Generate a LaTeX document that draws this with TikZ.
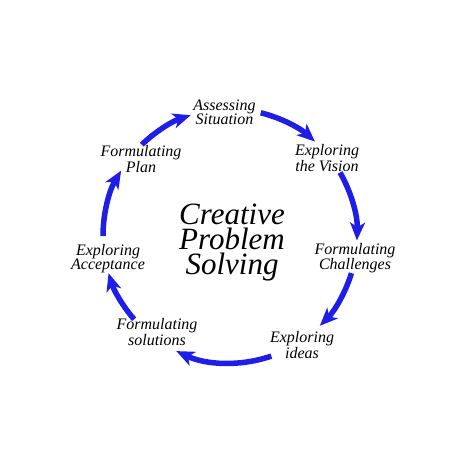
\documentclass[tikz,border=0pt]{standalone}
\usepackage{fontspec}
\setmainfont{Liberation Serif}
\usetikzlibrary{arrows.meta}
\definecolor{cycleblue}{RGB}{30,30,232}
\begin{document}
\begin{tikzpicture}[x=1pt, y=1pt]

	\tikzstyle{step_label} = [align=center, inner sep=0pt, font=\fontsize{16}{14}\selectfont\itshape]
	\tikzstyle{title_label} = [align=center, inner sep=0pt, font=\fontsize{31}{25}\selectfont\itshape]
	\tikzstyle{cycle_arrow} = [draw=cycleblue, line width=5.5pt, -{Stealth[length=18pt, width=15pt, inset=5pt]}]

	\useasboundingbox (-230,-238) rectangle (244,236);

%------------------------------------------------------------
	\node[title_label] (title) at (2,-7) {Creative\\Problem\\Solving};

%------------------------------------------------------------
	\node[step_label] (assess) at (-5.5,124) {Assessing\\Situation};
	\node[step_label] (vision) at (97,78) {Exploring\\the Vision};
	\node[step_label] (challenge) at (125,-22) {Formulating\\Challenges};
	\node[step_label] (ideas) at (72,-109) {Exploring\\ideas};
	\node[step_label] (solution) at (-73,-96) {Formulating\\solutions};
	\node[step_label] (accept) at (-122,-23) {Exploring\\Acceptance};
	\node[step_label] (plan) at (-89,77) {Formulating\\Plan};

%------------------------------------------------------------
	\coordinate (a1) at (134:127pt);
	\coordinate (a2) at (76:127pt);
	\coordinate (a3) at (30:127pt);
	\coordinate (a4) at (-17:127pt);
	\coordinate (a5) at (-71:127pt);
	\coordinate (a6) at (-139:127pt);
	\coordinate (a7) at (180:127pt);

	\draw[cycle_arrow] (a1) arc[start angle=134, end angle=108, radius=127pt];
	\draw[cycle_arrow] (a2) arc[start angle=76, end angle=48, radius=127pt];
	\draw[cycle_arrow] (a3) arc[start angle=30, end angle=-2, radius=127pt];
	\draw[cycle_arrow] (a4) arc[start angle=-17, end angle=-45, radius=127pt];
	\draw[cycle_arrow] (a5) arc[start angle=-71, end angle=-115, radius=127pt];
	\draw[cycle_arrow] (a6) arc[start angle=-139, end angle=-163, radius=127pt];
	\draw[cycle_arrow] (a7) arc[start angle=180, end angle=149, radius=127pt];

\end{tikzpicture}
\end{document}
